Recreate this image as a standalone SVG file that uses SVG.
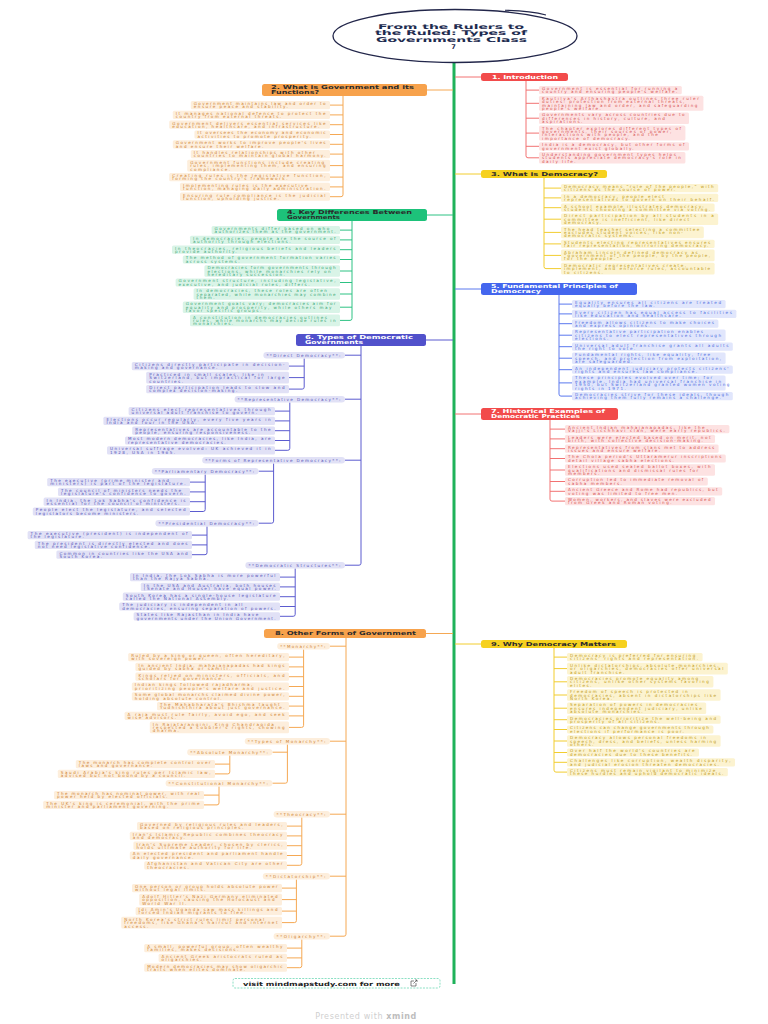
<svg xmlns="http://www.w3.org/2000/svg" width="768" height="1024" viewBox="0 0 768 1024">
<style>
.t{font-family:"DejaVu Sans","Liberation Sans",sans-serif;font-size:4.1px;letter-spacing:1.5px}
.h{font-family:"DejaVu Sans","Liberation Sans",sans-serif;font-weight:bold;font-size:5.4px}
.tr{stroke:#1fb25a;stroke-width:3;fill:none}
.lr{stroke:#f27272;stroke-width:1;fill:none}
.lo{stroke:#f5a853;stroke-width:1;fill:none}
.ly{stroke:#f2cd2f;stroke-width:1;fill:none}
.lg{stroke:#2dc283;stroke-width:1;fill:none}
.lb{stroke:#5a78ee;stroke-width:1;fill:none}
.lp{stroke:#5b5bcf;stroke-width:1;fill:none}
.ir{fill:#fde2e2}.io{fill:#fdeedc}.iy{fill:#fcf3d0}.ig{fill:#d9f4e7}.ib{fill:#e1e6fc}.ip{fill:#e1e1f6}
.cr{fill:#d65252}.co{fill:#cf8433}.cy{fill:#bf9b17}.cg{fill:#3ba877}.cb{fill:#4d6de0}.cp{fill:#5555b8}
.hr{fill:#f24b4b}.ho{fill:#f7a24c}.hy{fill:#f6d11f}.hg{fill:#1dc27a}.hb{fill:#4466ee}.hp{fill:#5151cb}
.w{fill:#ffffff}.d{fill:#2b2b2b}
</style>
<rect width="768" height="1024" fill="#ffffff"/>

<g id="connectors">
<path class="tr" d="M454,62 V984"/>
<path class="lr" d="M455,77 H481"/>
<path class="lo" d="M427,90 H453"/>
<path class="ly" d="M455,174 H481"/>
<path class="lg" d="M427,215 H453"/>
<path class="lb" d="M455,289 H481"/>
<path class="lp" d="M426,340 H453"/>
<path class="lr" d="M455,414 H481"/>
<path class="lo" d="M426,633.5 H453"/>
<path class="ly" d="M455,644 H481"/>
<path class="lr" d="M526,81 V155.8 Q526,157.8 528,157.8 H539 M526,90.1 H539 M526,103.3 H539 M526,118.2 H539 M526,133.1 H539 M526,146.3 H539"/>
<path class="lo" d="M343,96 V194.7 Q343,196.7 341,196.7 H330 M343,105.1 H330 M343,114.9 H330 M343,124.7 H330 M343,134.5 H330 M343,144.3 H330 M343,154.1 H330 M343,165.6 H330 M343,177.1 H330 M343,186.9 H330"/>
<path class="ly" d="M544,178 V266.6 Q544,268.6 546,268.6 H561 M544,188.1 H561 M544,197.9 H561 M544,207.7 H561 M544,219.2 H561 M544,232.4 H561 M544,243.9 H561 M544,255.4 H561"/>
<path class="lg" d="M352,221 V318.4 Q352,320.4 350,320.4 H340 M352,230.1 H340 M352,239.9 H340 M352,249.7 H340 M352,259.5 H340 M352,271 H340 M352,282.5 H340 M352,294 H340 M352,307.2 H340"/>
<path class="lb" d="M559,295 V394.1 Q559,396.1 561,396.1 H572 M559,304.1 H572 M559,313.9 H572 M559,323.7 H572 M559,335.2 H572 M559,346.7 H572 M559,358.2 H572 M559,369.7 H572 M559,382.9 H572"/>
<path class="lp" d="M361,346 V563.2 Q361,565.2 359,565.2 H345 M361,355.2 H345 M361,399.2 H345 M361,460.2 H345"/>
<path class="lp" d="M304.2,358.4 V387.1 Q304.2,389.1 302.2,389.1 H289 M304.2,366.1 H289 M304.2,377.6 H289"/>
<path class="lp" d="M289.8,402.4 V448.3 Q289.8,450.3 287.8,450.3 H275 M289.8,411.1 H275 M289.8,420.9 H275 M289.8,430.7 H275 M289.8,440.5 H275"/>
<path class="lp" d="M273.6,463.4 V521.2 Q273.6,523.2 271.6,523.2 H258.6 M273.6,471.2 H258.6"/>
<path class="lp" d="M205.2,474.4 V509.5 Q205.2,511.5 203.2,511.5 H190 M205.2,482.1 H190 M205.2,491.9 H190 M205.2,501.7 H190"/>
<path class="lp" d="M207,526.4 V552.7 Q207,554.7 205,554.7 H192 M207,535.1 H192 M207,544.9 H192"/>
<path class="lp" d="M295.2,568.4 V614.3 Q295.2,616.3 293.2,616.3 H280 M295.2,577.1 H280 M295.2,586.9 H280 M295.2,596.7 H280 M295.2,606.5 H280"/>
<path class="lr" d="M550,420 V499.1 Q550,501.1 552,501.1 H565 M550,429.1 H565 M550,438.9 H565 M550,448.7 H565 M550,458.5 H565 M550,470 H565 M550,481.5 H565 M550,491.3 H565"/>
<path class="lo" d="M346,638 V934.2 Q346,936.2 344,936.2 H330 M346,646.2 H330 M346,741.2 H330 M346,814.2 H330 M346,876.2 H330"/>
<path class="lo" d="M303.6,649.4 V725.4 Q303.6,727.4 301.6,727.4 H289 M303.6,657.1 H289 M303.6,666.9 H289 M303.6,676.7 H289 M303.6,686.5 H289 M303.6,696.3 H289 M303.6,706.1 H289 M303.6,715.9 H289"/>
<path class="lo" d="M287.4,744.4 V781.2 Q287.4,783.2 285.4,783.2 H272.4 M287.4,752.2 H272.4"/>
<path class="lo" d="M229.8,755.4 V771.9 Q229.8,773.9 227.8,773.9 H215 M229.8,764.1 H215"/>
<path class="lo" d="M219,786.4 V802.9 Q219,804.9 217,804.9 H204 M219,795.1 H204"/>
<path class="lo" d="M301.8,817.4 V863.3 Q301.8,865.3 299.8,865.3 H287 M301.8,826.1 H287 M301.8,835.9 H287 M301.8,845.7 H287 M301.8,855.5 H287"/>
<path class="lo" d="M296.4,879.4 V920.6 Q296.4,922.6 294.4,922.6 H282 M296.4,888.1 H282 M296.4,899.6 H282 M296.4,911.1 H282"/>
<path class="lo" d="M301.8,939.4 V965.7 Q301.8,967.7 299.8,967.7 H287 M301.8,948.1 H287 M301.8,957.9 H287"/>
<path class="ly" d="M554,648 V770.1 Q554,772.1 556,772.1 H567 M554,657.1 H567 M554,668.6 H567 M554,681.8 H567 M554,695 H567 M554,708.2 H567 M554,719.7 H567 M554,729.5 H567 M554,741 H567 M554,752.5 H567 M554,762.3 H567"/>
</g>

<g id="title">
<ellipse cx="455" cy="36" rx="122" ry="26.5" fill="#ffffff" stroke="#22264a" stroke-width="1.3"/>
<path d="M505,10.3 Q530,10.6 546,15" fill="none" stroke="#22264a" stroke-width="1.1"/>
<g class="h" style="font-size:6.6px;fill:#1d2b4f" text-anchor="middle">
<text x="451" y="28.6" textLength="146" lengthAdjust="spacingAndGlyphs">From the Rulers to</text>
<text x="451" y="35.4" textLength="152" lengthAdjust="spacingAndGlyphs">the Ruled: Types of</text>
<text x="451.5" y="42.2" textLength="151" lengthAdjust="spacingAndGlyphs">Governments Class</text>
<text x="453.5" y="49">7</text>
</g>
</g>

<!-- Branch 1 -->
<g id="n1"><rect class="hr" x="481" y="73" width="87" height="8" rx="2.5"/><text class="h w" x="492" y="79" textLength="66" lengthAdjust="spacingAndGlyphs">1. Introduction</text></g>
<g class="cr">
<g id="n1a"><rect class="ir" x="539" y="86" width="142.8" height="8.2" rx="1.5"/><text class="t" x="542" y="89.9" textLength="136.8">Government is essential for running a</text><text class="t" x="542" y="93.3">country and ensuring people's welfare.</text></g>
<g id="n1b"><rect class="ir" x="539" y="95.8" width="164.4" height="15" rx="1.5"/><text class="t" x="542" y="99.7" textLength="158.4">Kautilya's Arthashastra outlines three ruler</text><text class="t" x="542" y="103.1">duties: protection from external threats,</text><text class="t" x="542" y="106.5">maintaining law and order, and safeguarding</text><text class="t" x="542" y="109.9">people's welfare.</text></g>
<g id="n1c"><rect class="ir" x="539" y="112.4" width="150" height="11.6" rx="1.5"/><text class="t" x="542" y="116.3" textLength="144">Governments vary across countries due to</text><text class="t" x="542" y="119.7">differences in history, culture, and</text><text class="t" x="542" y="123.1">aspirations.</text></g>
<g id="n1d"><rect class="ir" x="539" y="125.6" width="146.4" height="15" rx="1.5"/><text class="t" x="542" y="129.5" textLength="140.4">The chapter explores different types of</text><text class="t" x="542" y="132.9">governments, their sources of power,</text><text class="t" x="542" y="136.3">interactions with people, and the</text><text class="t" x="542" y="139.7">importance of democracy.</text></g>
<g id="n1e"><rect class="ir" x="539" y="142.2" width="150" height="8.2" rx="1.5"/><text class="t" x="542" y="146.1" textLength="144">India is a democracy, but other forms of</text><text class="t" x="542" y="149.5">government exist globally.</text></g>
<g id="n1f"><rect class="ir" x="539" y="152" width="146.4" height="11.6" rx="1.5"/><text class="t" x="542" y="155.9">Understanding government types helps</text><text class="t" x="542" y="159.3" textLength="140.4">students appreciate democracy's role in</text><text class="t" x="542" y="162.7">daily life.</text></g>
</g>

<!-- Branch 2 -->
<g id="n2"><rect class="ho" x="262" y="84" width="165" height="12" rx="2.5"/><text class="h d" x="271" y="89" textLength="143" lengthAdjust="spacingAndGlyphs">2. What is Government and its</text><text class="h d" x="271" y="94" textLength="48" lengthAdjust="spacingAndGlyphs">Functions?</text></g>
<g class="co">
<g id="n2a"><rect class="io" x="190.8" y="101" width="139.2" height="8.2" rx="1.5"/><text class="t" x="193.8" y="104.9" textLength="133.2">Government maintains law and order to</text><text class="t" x="193.8" y="108.3">ensure peace and stability.</text></g>
<g id="n2b"><rect class="io" x="172.8" y="110.8" width="157.2" height="8.2" rx="1.5"/><text class="t" x="175.8" y="114.7" textLength="151.2">It manages national defence to protect the</text><text class="t" x="175.8" y="118.1">country from external threats.</text></g>
<g id="n2c"><rect class="io" x="169.2" y="120.6" width="160.8" height="8.2" rx="1.5"/><text class="t" x="172.2" y="124.5" textLength="154.8">Government delivers essential services like</text><text class="t" x="172.2" y="127.9">education, healthcare, and infrastructure.</text></g>
<g id="n2d"><rect class="io" x="194.4" y="130.4" width="135.6" height="8.2" rx="1.5"/><text class="t" x="197.4" y="134.3" textLength="129.6">It oversees the economy and economic</text><text class="t" x="197.4" y="137.7">activities to promote prosperity.</text></g>
<g id="n2e"><rect class="io" x="172.8" y="140.2" width="157.2" height="8.2" rx="1.5"/><text class="t" x="175.8" y="144.1" textLength="151.2">Government works to improve people's lives</text><text class="t" x="175.8" y="147.5">and ensure their welfare.</text></g>
<g id="n2f"><rect class="io" x="190.8" y="150" width="139.2" height="8.2" rx="1.5"/><text class="t" x="193.8" y="153.9">It handles relationships with other</text><text class="t" x="193.8" y="157.3" textLength="133.2">countries to maintain global harmony.</text></g>
<g id="n2g"><rect class="io" x="187.2" y="159.8" width="142.8" height="11.6" rx="1.5"/><text class="t" x="190.2" y="163.7">Government functions include creating</text><text class="t" x="190.2" y="167.1" textLength="136.8">rules, implementing them, and ensuring</text><text class="t" x="190.2" y="170.5">compliance.</text></g>
<g id="n2h"><rect class="io" x="169.2" y="173" width="160.8" height="8.2" rx="1.5"/><text class="t" x="172.2" y="176.9" textLength="154.8">Creating rules is the legislative function,</text><text class="t" x="172.2" y="180.3">forming the country's framework.</text></g>
<g id="n2i"><rect class="io" x="180" y="182.8" width="150" height="8.2" rx="1.5"/><text class="t" x="183" y="186.7">Implementing rules is the executive</text><text class="t" x="183" y="190.1" textLength="144">function, managing daily administration.</text></g>
<g id="n2j"><rect class="io" x="180" y="192.6" width="150" height="8.2" rx="1.5"/><text class="t" x="183" y="196.5" textLength="144">Ensuring rule compliance is the judicial</text><text class="t" x="183" y="199.9">function, upholding justice.</text></g>
</g>

<!-- Branch 3 -->
<g id="n3"><rect class="hy" x="481" y="170" width="126" height="8" rx="2.5"/><text class="h d" x="491" y="176" textLength="107" lengthAdjust="spacingAndGlyphs">3. What is Democracy?</text></g>
<g class="cy">
<g id="n3a"><rect class="iy" x="561" y="184" width="157.2" height="8.2" rx="1.5"/><text class="t" x="564" y="187.9" textLength="151.2">Democracy means “rule of the people,” with</text><text class="t" x="564" y="191.3">citizens as the source of power.</text></g>
<g id="n3b"><rect class="iy" x="561" y="193.8" width="157.2" height="8.2" rx="1.5"/><text class="t" x="564" y="197.7">In a democracy, people elect</text><text class="t" x="564" y="201.1" textLength="151.2">representatives to govern on their behalf.</text></g>
<g id="n3c"><rect class="iy" x="561" y="203.6" width="153.6" height="8.2" rx="1.5"/><text class="t" x="564" y="207.5">A school example illustrates democracy:</text><text class="t" x="564" y="210.9" textLength="147.6">students choosing a committee via voting.</text></g>
<g id="n3d"><rect class="iy" x="561" y="213.4" width="157.2" height="11.6" rx="1.5"/><text class="t" x="564" y="217.3" textLength="151.2">Direct participation by all students in a</text><text class="t" x="564" y="220.7">committee is inefficient, like direct</text><text class="t" x="564" y="224.1">democracy.</text></g>
<g id="n3e"><rect class="iy" x="561" y="226.6" width="142.8" height="11.6" rx="1.5"/><text class="t" x="564" y="230.5" textLength="136.8">The head teacher selecting a committee</text><text class="t" x="564" y="233.9">excludes student voices, like non-</text><text class="t" x="564" y="237.3">democratic systems.</text></g>
<g id="n3f"><rect class="iy" x="561" y="239.8" width="153.6" height="8.2" rx="1.5"/><text class="t" x="564" y="243.7" textLength="147.6">Students electing representatives ensures</text><text class="t" x="564" y="247.1">fair representation, mirroring democracy.</text></g>
<g id="n3g"><rect class="iy" x="561" y="249.6" width="153.6" height="11.6" rx="1.5"/><text class="t" x="564" y="253.5">Abraham Lincoln defined democracy as</text><text class="t" x="564" y="256.9" textLength="147.6">“government of the people, by the people,</text><text class="t" x="564" y="260.3">for the people.”</text></g>
<g id="n3h"><rect class="iy" x="561" y="262.8" width="153.6" height="11.6" rx="1.5"/><text class="t" x="564" y="266.7">Democratic representatives create,</text><text class="t" x="564" y="270.1" textLength="147.6">implement, and enforce rules, accountable</text><text class="t" x="564" y="273.5">to citizens.</text></g>
</g>

<!-- Branch 4 -->
<g id="n4"><rect class="hg" x="277" y="209" width="150" height="12" rx="2.5"/><text class="h d" x="287" y="214" textLength="125" lengthAdjust="spacingAndGlyphs">4. Key Differences Between</text><text class="h d" x="287" y="219" textLength="53" lengthAdjust="spacingAndGlyphs">Governments</text></g>
<g class="cg">
<g id="n4a"><rect class="ig" x="211.6" y="226" width="128.4" height="8.2" rx="1.5"/><text class="t" x="214.6" y="229.9">Governments differ based on who</text><text class="t" x="214.6" y="233.3" textLength="122.4">authorizes them as the government.</text></g>
<g id="n4b"><rect class="ig" x="190" y="235.8" width="150" height="8.2" rx="1.5"/><text class="t" x="193" y="239.7" textLength="144">In democracies, people are the source of</text><text class="t" x="193" y="243.1">authority through elections.</text></g>
<g id="n4c"><rect class="ig" x="172" y="245.6" width="168" height="8.2" rx="1.5"/><text class="t" x="175" y="249.5" textLength="162">In theocracies, religious beliefs and leaders</text><text class="t" x="175" y="252.9">provide authority.</text></g>
<g id="n4d"><rect class="ig" x="182.8" y="255.4" width="157.2" height="8.2" rx="1.5"/><text class="t" x="185.8" y="259.3" textLength="151.2">The method of government formation varies</text><text class="t" x="185.8" y="262.7">across systems.</text></g>
<g id="n4e"><rect class="ig" x="204.4" y="265.2" width="135.6" height="11.6" rx="1.5"/><text class="t" x="207.4" y="269.1" textLength="129.6">Democracies form governments through</text><text class="t" x="207.4" y="272.5">elections, while monarchies rely on</text><text class="t" x="207.4" y="275.9">hereditary succession.</text></g>
<g id="n4f"><rect class="ig" x="175.6" y="278.4" width="164.4" height="8.2" rx="1.5"/><text class="t" x="178.6" y="282.3" textLength="158.4">Government structure, including legislative,</text><text class="t" x="178.6" y="285.7">executive, and judicial roles, differs.</text></g>
<g id="n4g"><rect class="ig" x="193.6" y="288.2" width="146.4" height="11.6" rx="1.5"/><text class="t" x="196.6" y="292.1">In democracies, these roles are often</text><text class="t" x="196.6" y="295.5" textLength="140.4">separated, while monarchies may combine</text><text class="t" x="196.6" y="298.9">them.</text></g>
<g id="n4h"><rect class="ig" x="182.8" y="301.4" width="157.2" height="11.6" rx="1.5"/><text class="t" x="185.8" y="305.3" textLength="151.2">Government goals vary; democracies aim for</text><text class="t" x="185.8" y="308.7">equality and prosperity, while others may</text><text class="t" x="185.8" y="312.1">favor specific groups.</text></g>
<g id="n4i"><rect class="ig" x="190" y="314.6" width="150" height="11.6" rx="1.5"/><text class="t" x="193" y="318.5">A constitution in democracies outlines</text><text class="t" x="193" y="321.9" textLength="144">rules, while monarchs may decide rules in</text><text class="t" x="193" y="325.3">monarchies.</text></g>
</g>

<!-- Branch 5 -->
<g id="n5"><rect class="hb" x="481" y="283" width="156" height="12" rx="2.5"/><text class="h w" x="491" y="288" textLength="127" lengthAdjust="spacingAndGlyphs">5. Fundamental Principles of</text><text class="h w" x="491" y="293" textLength="50" lengthAdjust="spacingAndGlyphs">Democracy</text></g>
<g class="cb">
<g id="n5a"><rect class="ib" x="572" y="300" width="153.6" height="8.2" rx="1.5"/><text class="t" x="575" y="303.9" textLength="147.6">Equality ensures all citizens are treated</text><text class="t" x="575" y="307.3">equally before the law.</text></g>
<g id="n5b"><rect class="ib" x="572" y="309.8" width="164.4" height="8.2" rx="1.5"/><text class="t" x="575" y="313.7" textLength="158.4">Every citizen has equal access to facilities</text><text class="t" x="575" y="317.1">like education and healthcare.</text></g>
<g id="n5c"><rect class="ib" x="572" y="319.6" width="146.4" height="8.2" rx="1.5"/><text class="t" x="575" y="323.5" textLength="140.4">Freedom allows citizens to make choices</text><text class="t" x="575" y="326.9">and express opinions.</text></g>
<g id="n5d"><rect class="ib" x="572" y="329.4" width="153.6" height="11.6" rx="1.5"/><text class="t" x="575" y="333.3">Representative participation enables</text><text class="t" x="575" y="336.7" textLength="147.6">citizens to elect representatives through</text><text class="t" x="575" y="340.1">elections.</text></g>
<g id="n5e"><rect class="ib" x="572" y="342.6" width="160.8" height="8.2" rx="1.5"/><text class="t" x="575" y="346.5" textLength="154.8">Universal adult franchise grants all adults</text><text class="t" x="575" y="349.9">the right to vote.</text></g>
<g id="n5f"><rect class="ib" x="572" y="352.4" width="153.6" height="11.6" rx="1.5"/><text class="t" x="575" y="356.3">Fundamental rights, like equality, free</text><text class="t" x="575" y="359.7" textLength="147.6">speech, and protection from exploitation,</text><text class="t" x="575" y="363.1">are safeguarded.</text></g>
<g id="n5g"><rect class="ib" x="572" y="365.6" width="160.8" height="8.2" rx="1.5"/><text class="t" x="575" y="369.5" textLength="154.8">An independent judiciary protects citizens'</text><text class="t" x="575" y="372.9">rights and ensures law compliance.</text></g>
<g id="n5h"><rect class="ib" x="572" y="375.4" width="153.6" height="15" rx="1.5"/><text class="t" x="575" y="379.3">These principles evolved over time; for</text><text class="t" x="575" y="382.7" textLength="147.6">example, India had universal franchise in</text><text class="t" x="575" y="386.1">1950, but Switzerland granted women voting</text><text class="t" x="575" y="389.5">rights in 1971.</text></g>
<g id="n5i"><rect class="ib" x="572" y="392" width="160.8" height="8.2" rx="1.5"/><text class="t" x="575" y="395.9" textLength="154.8">Democracies strive for these ideals, though</text><text class="t" x="575" y="399.3">achieving them fully remains a challenge.</text></g>
</g>

<!-- Branch 6 -->
<g id="n6"><rect class="hp" x="296" y="334" width="130" height="12" rx="2.5"/><text class="h w" x="305" y="339" textLength="108" lengthAdjust="spacingAndGlyphs">6. Types of Democratic</text><text class="h w" x="305" y="344" textLength="58" lengthAdjust="spacingAndGlyphs">Governments</text></g>
<g class="cp">
<g id="n6-direct"><rect class="ip" x="263.4" y="352" width="81.6" height="6.4" rx="3.2"/><text class="t" x="266.4" y="356.6" textLength="75.6">**Direct Democracy**:</text></g>
<g id="n6-d1"><rect class="ip" x="131.8" y="362" width="157.2" height="8.2" rx="1.5"/><text class="t" x="134.8" y="365.9" textLength="151.2">Citizens directly participate in decision-</text><text class="t" x="134.8" y="369.3">making and governance.</text></g>
<g id="n6-d2"><rect class="ip" x="146.2" y="371.8" width="142.8" height="11.6" rx="1.5"/><text class="t" x="149.2" y="375.7">Practiced in small scales, like in</text><text class="t" x="149.2" y="379.1" textLength="136.8">Switzerland, but impractical for large</text><text class="t" x="149.2" y="382.5">countries.</text></g>
<g id="n6-d3"><rect class="ip" x="146.2" y="385" width="142.8" height="8.2" rx="1.5"/><text class="t" x="149.2" y="388.9" textLength="136.8">Direct participation leads to slow and</text><text class="t" x="149.2" y="392.3">complex decision-making.</text></g>
<g id="n6-rep"><rect class="ip" x="234.6" y="396" width="110.4" height="6.4" rx="3.2"/><text class="t" x="237.6" y="400.6" textLength="104.4">**Representative Democracy**:</text></g>
<g id="n6-r1"><rect class="ip" x="128.6" y="407" width="146.4" height="8.2" rx="1.5"/><text class="t" x="131.6" y="410.9" textLength="140.4">Citizens elect representatives through</text><text class="t" x="131.6" y="414.3">universal adult franchise to govern.</text></g>
<g id="n6-r2"><rect class="ip" x="103.4" y="416.8" width="171.6" height="8.2" rx="1.5"/><text class="t" x="106.4" y="420.7" textLength="165.6">Elections occur regularly, every five years in</text><text class="t" x="106.4" y="424.1">India and four in the USA.</text></g>
<g id="n6-r3"><rect class="ip" x="132.2" y="426.6" width="142.8" height="8.2" rx="1.5"/><text class="t" x="135.2" y="430.5" textLength="136.8">Representatives are accountable to the</text><text class="t" x="135.2" y="433.9">people, ensuring responsiveness.</text></g>
<g id="n6-r4"><rect class="ip" x="125" y="436.4" width="150" height="8.2" rx="1.5"/><text class="t" x="128" y="440.3" textLength="144">Most modern democracies, like India, are</text><text class="t" x="128" y="443.7">representative democracies.</text></g>
<g id="n6-r5"><rect class="ip" x="107" y="446.2" width="168" height="8.2" rx="1.5"/><text class="t" x="110" y="450.1" textLength="162">Universal suffrage evolved: UK achieved it in</text><text class="t" x="110" y="453.5">1928, USA in 1965.</text></g>
<g id="n6-forms"><rect class="ip" x="202.2" y="457" width="142.8" height="6.4" rx="3.2"/><text class="t" x="205.2" y="461.6" textLength="136.8">**Forms of Representative Democracy**:</text></g>
<g id="n6-parl"><rect class="ip" x="151.8" y="468" width="106.8" height="6.4" rx="3.2"/><text class="t" x="154.8" y="472.6" textLength="100.8">**Parliamentary Democracy**:</text></g>
<g id="n6-p1"><rect class="ip" x="47.2" y="478" width="142.8" height="8.2" rx="1.5"/><text class="t" x="50.2" y="481.9">The executive (prime minister and</text><text class="t" x="50.2" y="485.3" textLength="136.8">ministers) is part of the legislature.</text></g>
<g id="n6-p2"><rect class="ip" x="58" y="487.8" width="132" height="8.2" rx="1.5"/><text class="t" x="61" y="491.7">The council of ministers needs the</text><text class="t" x="61" y="495.1" textLength="126">legislature's confidence to govern.</text></g>
<g id="n6-p3"><rect class="ip" x="43.6" y="497.6" width="146.4" height="8.2" rx="1.5"/><text class="t" x="46.6" y="501.5" textLength="140.4">In India, the Lok Sabha's confidence is</text><text class="t" x="46.6" y="504.9">essential for the council of ministers.</text></g>
<g id="n6-p4"><rect class="ip" x="32.8" y="507.4" width="157.2" height="8.2" rx="1.5"/><text class="t" x="35.8" y="511.3" textLength="151.2">People elect the legislature, and selected</text><text class="t" x="35.8" y="514.7">legislators become ministers.</text></g>
<g id="n6-pres"><rect class="ip" x="155.4" y="520" width="103.2" height="6.4" rx="3.2"/><text class="t" x="158.4" y="524.6" textLength="97.2">**Presidential Democracy**:</text></g>
<g id="n6-s1"><rect class="ip" x="27.6" y="531" width="164.4" height="8.2" rx="1.5"/><text class="t" x="30.6" y="534.9" textLength="158.4">The executive (president) is independent of</text><text class="t" x="30.6" y="538.3">the legislature.</text></g>
<g id="n6-s2"><rect class="ip" x="34.8" y="540.8" width="157.2" height="8.2" rx="1.5"/><text class="t" x="37.8" y="544.7" textLength="151.2">The president is directly elected and does</text><text class="t" x="37.8" y="548.1">not need legislative confidence.</text></g>
<g id="n6-s3"><rect class="ip" x="56.4" y="550.6" width="135.6" height="8.2" rx="1.5"/><text class="t" x="59.4" y="554.5" textLength="129.6">Common in countries like the USA and</text><text class="t" x="59.4" y="557.9">South Korea.</text></g>
<g id="n6-struct"><rect class="ip" x="245.4" y="562" width="99.6" height="6.4" rx="3.2"/><text class="t" x="248.4" y="566.6" textLength="93.6">**Democratic Structures**:</text></g>
<g id="n6-t1"><rect class="ip" x="130" y="573" width="150" height="8.2" rx="1.5"/><text class="t" x="133" y="576.9" textLength="144">In India, the Lok Sabha is more powerful</text><text class="t" x="133" y="580.3">than the Rajya Sabha.</text></g>
<g id="n6-t2"><rect class="ip" x="140.8" y="582.8" width="139.2" height="8.2" rx="1.5"/><text class="t" x="143.8" y="586.7" textLength="133.2">In the USA and Australia, both houses</text><text class="t" x="143.8" y="590.1">(Senate and House) have equal power.</text></g>
<g id="n6-t3"><rect class="ip" x="122.8" y="592.6" width="157.2" height="8.2" rx="1.5"/><text class="t" x="125.8" y="596.5" textLength="151.2">South Korea has a single-house legislature</text><text class="t" x="125.8" y="599.9">called the National Assembly.</text></g>
<g id="n6-t4"><rect class="ip" x="119.2" y="602.4" width="160.8" height="8.2" rx="1.5"/><text class="t" x="122.2" y="606.3">The judiciary is independent in all</text><text class="t" x="122.2" y="609.7" textLength="154.8">democracies, ensuring separation of powers.</text></g>
<g id="n6-t5"><rect class="ip" x="133.6" y="612.2" width="146.4" height="8.2" rx="1.5"/><text class="t" x="136.6" y="616.1">States like Rajasthan in India have</text><text class="t" x="136.6" y="619.5" textLength="140.4">governments under the Union Government.</text></g>
</g>

<!-- Branch 7 -->
<g id="n7"><rect class="hr" x="481" y="408" width="137" height="12" rx="2.5"/><text class="h w" x="491" y="413" textLength="114" lengthAdjust="spacingAndGlyphs">7. Historical Examples of</text><text class="h w" x="491" y="418" textLength="89" lengthAdjust="spacingAndGlyphs">Democratic Practices</text></g>
<g class="cr">
<g id="n7a"><rect class="ir" x="565" y="425" width="164.4" height="8.2" rx="1.5"/><text class="t" x="568" y="428.9">Ancient Indian mahajanapadas, like the</text><text class="t" x="568" y="432.3" textLength="158.4">Vajji's Licchhavi clan, were early republics.</text></g>
<g id="n7b"><rect class="ir" x="565" y="434.8" width="150" height="8.2" rx="1.5"/><text class="t" x="568" y="438.7" textLength="144">Leaders were elected based on merit, not</text><text class="t" x="568" y="442.1">birth, with collective decision-making.</text></g>
<g id="n7c"><rect class="ir" x="565" y="444.6" width="153.6" height="8.2" rx="1.5"/><text class="t" x="568" y="448.5" textLength="147.6">Representatives from clans met to address</text><text class="t" x="568" y="451.9">issues and ensure welfare.</text></g>
<g id="n7d"><rect class="ir" x="565" y="454.4" width="160.8" height="8.2" rx="1.5"/><text class="t" x="568" y="458.3" textLength="154.8">The Chola period's Uttaramerur inscriptions</text><text class="t" x="568" y="461.7">detail village sabha elections.</text></g>
<g id="n7e"><rect class="ir" x="565" y="464.2" width="150" height="11.6" rx="1.5"/><text class="t" x="568" y="468.1" textLength="144">Elections used sealed ballot boxes, with</text><text class="t" x="568" y="471.5">qualifications and dismissal rules for</text><text class="t" x="568" y="474.9">members.</text></g>
<g id="n7f"><rect class="ir" x="565" y="477.4" width="142.8" height="8.2" rx="1.5"/><text class="t" x="568" y="481.3" textLength="136.8">Corruption led to immediate removal of</text><text class="t" x="568" y="484.7">sabha members.</text></g>
<g id="n7g"><rect class="ir" x="565" y="487.2" width="157.2" height="8.2" rx="1.5"/><text class="t" x="568" y="491.1" textLength="151.2">Ancient Greece and Rome had republics, but</text><text class="t" x="568" y="494.5">voting was limited to free men.</text></g>
<g id="n7h"><rect class="ir" x="565" y="497" width="150" height="8.2" rx="1.5"/><text class="t" x="568" y="500.9" textLength="144">Women, workers, and slaves were excluded</text><text class="t" x="568" y="504.3">from Greek and Roman voting.</text></g>
</g>

<!-- Branch 8 -->
<g id="n8"><rect class="ho" x="264" y="629" width="162" height="9" rx="2.5"/><text class="h d" x="275" y="635.4" textLength="141" lengthAdjust="spacingAndGlyphs">8. Other Forms of Government</text></g>
<g class="co">
<g id="n8-mon"><rect class="io" x="277.2" y="643" width="52.8" height="6.4" rx="3.2"/><text class="t" x="280.2" y="647.6" textLength="46.8">**Monarchy**:</text></g>
<g id="n8-m1"><rect class="io" x="128.2" y="653" width="160.8" height="8.2" rx="1.5"/><text class="t" x="131.2" y="656.9" textLength="154.8">Ruled by a king or queen, often hereditary,</text><text class="t" x="131.2" y="660.3">with sovereign power.</text></g>
<g id="n8-m2"><rect class="io" x="135.4" y="662.8" width="153.6" height="8.2" rx="1.5"/><text class="t" x="138.4" y="666.7" textLength="147.6">In ancient India, mahajanapadas had kings</text><text class="t" x="138.4" y="670.1">guided by sabha or samiti.</text></g>
<g id="n8-m3"><rect class="io" x="135.4" y="672.6" width="153.6" height="8.2" rx="1.5"/><text class="t" x="138.4" y="676.5" textLength="147.6">Kings relied on ministers, officials, and</text><text class="t" x="138.4" y="679.9">scholars for governance.</text></g>
<g id="n8-m4"><rect class="io" x="131.8" y="682.4" width="157.2" height="8.2" rx="1.5"/><text class="t" x="134.8" y="686.3">Indian kings followed rajadharma,</text><text class="t" x="134.8" y="689.7" textLength="151.2">prioritizing people's welfare and justice.</text></g>
<g id="n8-m5"><rect class="io" x="131.8" y="692.2" width="157.2" height="8.2" rx="1.5"/><text class="t" x="134.8" y="696.1" textLength="151.2">Some global monarchs claimed divine power,</text><text class="t" x="134.8" y="699.5">holding absolute control.</text></g>
<g id="n8-m6"><rect class="io" x="157" y="702" width="132" height="8.2" rx="1.5"/><text class="t" x="160" y="705.9">The Mahabharata's Bhishma taught</text><text class="t" x="160" y="709.3" textLength="126">Yudhishthira about just governance.</text></g>
<g id="n8-m7"><rect class="io" x="124.6" y="711.8" width="164.4" height="8.2" rx="1.5"/><text class="t" x="127.6" y="715.7" textLength="158.4">A raja must rule fairly, avoid ego, and seek</text><text class="t" x="127.6" y="719.1">wise advisors.</text></g>
<g id="n8-m8"><rect class="io" x="149.8" y="721.6" width="139.2" height="11.6" rx="1.5"/><text class="t" x="152.8" y="725.5">In Rajatarangini, King Chandrapida</text><text class="t" x="152.8" y="728.9" textLength="133.2">respected a cobbler's rights, showing</text><text class="t" x="152.8" y="732.3">dharma.</text></g>
<g id="n8-types"><rect class="io" x="244.8" y="738" width="85.2" height="6.4" rx="3.2"/><text class="t" x="247.8" y="742.6" textLength="79.2">**Types of Monarchy**:</text></g>
<g id="n8-abs"><rect class="io" x="187.2" y="749" width="85.2" height="6.4" rx="3.2"/><text class="t" x="190.2" y="753.6" textLength="79.2">**Absolute Monarchy**:</text></g>
<g id="n8-a1"><rect class="io" x="75.8" y="760" width="139.2" height="8.2" rx="1.5"/><text class="t" x="78.8" y="763.9" textLength="133.2">The monarch has complete control over</text><text class="t" x="78.8" y="767.3">laws and governance.</text></g>
<g id="n8-a2"><rect class="io" x="57.8" y="769.8" width="157.2" height="8.2" rx="1.5"/><text class="t" x="60.8" y="773.7" textLength="151.2">Saudi Arabia's king rules per Islamic law,</text><text class="t" x="60.8" y="777.1">advised but not bound by a council.</text></g>
<g id="n8-con"><rect class="io" x="165.6" y="780" width="106.8" height="6.4" rx="3.2"/><text class="t" x="168.6" y="784.6" textLength="100.8">**Constitutional Monarchy**:</text></g>
<g id="n8-c1"><rect class="io" x="54" y="791" width="150" height="8.2" rx="1.5"/><text class="t" x="57" y="794.9" textLength="144">The monarch has nominal power, with real</text><text class="t" x="57" y="798.3">power held by elected officials.</text></g>
<g id="n8-c2"><rect class="io" x="43.2" y="800.8" width="160.8" height="8.2" rx="1.5"/><text class="t" x="46.2" y="804.7" textLength="154.8">The UK's king is ceremonial, with the prime</text><text class="t" x="46.2" y="808.1">minister and parliament governing.</text></g>
<g id="n8-theo"><rect class="io" x="273.6" y="811" width="56.4" height="6.4" rx="3.2"/><text class="t" x="276.6" y="815.6" textLength="50.4">**Theocracy**:</text></g>
<g id="n8-t1"><rect class="io" x="137" y="822" width="150" height="8.2" rx="1.5"/><text class="t" x="140" y="825.9" textLength="144">Governed by religious rules and leaders,</text><text class="t" x="140" y="829.3">based on religious principles.</text></g>
<g id="n8-t2"><rect class="io" x="129.8" y="831.8" width="157.2" height="8.2" rx="1.5"/><text class="t" x="132.8" y="835.7" textLength="151.2">Iran's Islamic Republic combines theocracy</text><text class="t" x="132.8" y="839.1">and democracy.</text></g>
<g id="n8-t3"><rect class="io" x="133.4" y="841.6" width="153.6" height="8.2" rx="1.5"/><text class="t" x="136.4" y="845.5" textLength="147.6">Iran's Supreme Leader, chosen by clerics,</text><text class="t" x="136.4" y="848.9">holds ultimate authority for life.</text></g>
<g id="n8-t4"><rect class="io" x="129.8" y="851.4" width="157.2" height="8.2" rx="1.5"/><text class="t" x="132.8" y="855.3" textLength="151.2">An elected president and parliament handle</text><text class="t" x="132.8" y="858.7">daily governance.</text></g>
<g id="n8-t5"><rect class="io" x="144.2" y="861.2" width="142.8" height="8.2" rx="1.5"/><text class="t" x="147.2" y="865.1" textLength="136.8">Afghanistan and Vatican City are other</text><text class="t" x="147.2" y="868.5">theocracies.</text></g>
<g id="n8-dict"><rect class="io" x="262.8" y="873" width="67.2" height="6.4" rx="3.2"/><text class="t" x="265.8" y="877.6" textLength="61.2">**Dictatorship**:</text></g>
<g id="n8-d1"><rect class="io" x="132" y="884" width="150" height="8.2" rx="1.5"/><text class="t" x="135" y="887.9" textLength="144">One person or group holds absolute power</text><text class="t" x="135" y="891.3">without legal limits.</text></g>
<g id="n8-d2"><rect class="io" x="139.2" y="893.8" width="142.8" height="11.6" rx="1.5"/><text class="t" x="142.2" y="897.7" textLength="136.8">Adolf Hitler's Nazi Germany eliminated</text><text class="t" x="142.2" y="901.1">opposition, causing the Holocaust and</text><text class="t" x="142.2" y="904.5">World War II.</text></g>
<g id="n8-d3"><rect class="io" x="135.6" y="907" width="146.4" height="8.2" rx="1.5"/><text class="t" x="138.6" y="910.9" textLength="140.4">Idi Amin's Uganda saw mass killings and</text><text class="t" x="138.6" y="914.3">forced Indian migrants to flee.</text></g>
<g id="n8-d4"><rect class="io" x="121.2" y="916.8" width="160.8" height="11.6" rx="1.5"/><text class="t" x="124.2" y="920.7">North Korea's strict rules limit personal</text><text class="t" x="124.2" y="924.1" textLength="154.8">freedoms, like Ghana's haircut and internet</text><text class="t" x="124.2" y="927.5">access.</text></g>
<g id="n8-olig"><rect class="io" x="273.6" y="933" width="56.4" height="6.4" rx="3.2"/><text class="t" x="276.6" y="937.6" textLength="50.4">**Oligarchy**:</text></g>
<g id="n8-o1"><rect class="io" x="144.2" y="944" width="142.8" height="8.2" rx="1.5"/><text class="t" x="147.2" y="947.9" textLength="136.8">A small, powerful group, often wealthy</text><text class="t" x="147.2" y="951.3">families, makes decisions.</text></g>
<g id="n8-o2"><rect class="io" x="158.6" y="953.8" width="128.4" height="8.2" rx="1.5"/><text class="t" x="161.6" y="957.7" textLength="122.4">Ancient Greek aristocrats ruled as</text><text class="t" x="161.6" y="961.1">oligarchies.</text></g>
<g id="n8-o3"><rect class="io" x="144.2" y="963.6" width="142.8" height="8.2" rx="1.5"/><text class="t" x="147.2" y="967.5" textLength="136.8">Modern democracies may show oligarchic</text><text class="t" x="147.2" y="970.9">traits when elites dominate.</text></g>
</g>

<!-- Branch 9 -->
<g id="n9"><rect class="hy" x="481" y="640" width="146" height="8" rx="2.5"/><text class="h d" x="491" y="646" textLength="125" lengthAdjust="spacingAndGlyphs">9. Why Democracy Matters</text></g>
<g class="cy">
<g id="n9a"><rect class="iy" x="567" y="653" width="135.6" height="8.2" rx="1.5"/><text class="t" x="570" y="656.9">Democracy is preferred for ensuring</text><text class="t" x="570" y="660.3" textLength="129.6">citizens' rights and representation.</text></g>
<g id="n9b"><rect class="iy" x="567" y="662.8" width="160.8" height="11.6" rx="1.5"/><text class="t" x="570" y="666.7">Unlike dictatorships, absolute monarchies,</text><text class="t" x="570" y="670.1" textLength="154.8">or oligarchies, democracies offer universal</text><text class="t" x="570" y="673.5">adult franchise.</text></g>
<g id="n9c"><rect class="iy" x="567" y="676" width="146.4" height="11.6" rx="1.5"/><text class="t" x="570" y="679.9">Democracies promote equality among</text><text class="t" x="570" y="683.3" textLength="140.4">citizens, unlike other systems favoring</text><text class="t" x="570" y="686.7">elites.</text></g>
<g id="n9d"><rect class="iy" x="567" y="689.2" width="153.6" height="11.6" rx="1.5"/><text class="t" x="570" y="693.1">Freedom of speech is protected in</text><text class="t" x="570" y="696.5" textLength="147.6">democracies, absent in dictatorships like</text><text class="t" x="570" y="699.9">North Korea.</text></g>
<g id="n9e"><rect class="iy" x="567" y="702.4" width="139.2" height="11.6" rx="1.5"/><text class="t" x="570" y="706.3">Separation of powers in democracies</text><text class="t" x="570" y="709.7" textLength="133.2">ensures independent judiciary, unlike</text><text class="t" x="570" y="713.1">absolute monarchies.</text></g>
<g id="n9f"><rect class="iy" x="567" y="715.6" width="153.6" height="8.2" rx="1.5"/><text class="t" x="570" y="719.5" textLength="147.6">Democracies prioritize the well-being and</text><text class="t" x="570" y="722.9">prosperity of all citizens.</text></g>
<g id="n9g"><rect class="iy" x="567" y="725.4" width="146.4" height="8.2" rx="1.5"/><text class="t" x="570" y="729.3" textLength="140.4">Citizens can change governments through</text><text class="t" x="570" y="732.7">elections if performance is poor.</text></g>
<g id="n9h"><rect class="iy" x="567" y="735.2" width="153.6" height="11.6" rx="1.5"/><text class="t" x="570" y="739.1">Democracy allows personal freedoms in</text><text class="t" x="570" y="742.5" textLength="147.6">speech, dress, and beliefs, unless harming</text><text class="t" x="570" y="745.9">others.</text></g>
<g id="n9i"><rect class="iy" x="567" y="748.4" width="132" height="8.2" rx="1.5"/><text class="t" x="570" y="752.3" textLength="126">Over half the world's countries are</text><text class="t" x="570" y="755.7">democracies due to these benefits.</text></g>
<g id="n9j"><rect class="iy" x="567" y="758.2" width="168" height="8.2" rx="1.5"/><text class="t" x="570" y="762.1" textLength="162">Challenges like corruption, wealth disparity,</text><text class="t" x="570" y="765.5">and judicial erosion threaten democracies.</text></g>
<g id="n9k"><rect class="iy" x="567" y="768" width="160.8" height="8.2" rx="1.5"/><text class="t" x="570" y="771.9">Citizens must remain vigilant to minimize</text><text class="t" x="570" y="775.3" textLength="154.8">these hurdles and uphold democratic ideals.</text></g>
</g>

<g id="footer">
<rect x="233" y="978.5" width="207" height="9.5" rx="2" fill="#ffffff" stroke="#6fd8b5" stroke-width="0.8" stroke-dasharray="2,1.2"/>
<text class="h" x="243" y="985.6" style="font-size:5.6px;fill:#222" textLength="157" lengthAdjust="spacingAndGlyphs">visit mindmapstudy.com for more</text>
<path d="M414,981 h-3 v5 h5 v-3 M413.5,983.5 L417,980 M415,980 h2 v2" fill="none" stroke="#333" stroke-width="0.6"/>
</g>
<text x="366" y="1019" text-anchor="middle" style="font-family:'DejaVu Sans',sans-serif;font-size:8px;fill:#cfcfcf;letter-spacing:0.6px">Presented with <tspan style="font-weight:bold;fill:#bdbdbd">xmind</tspan></text>
</svg>
